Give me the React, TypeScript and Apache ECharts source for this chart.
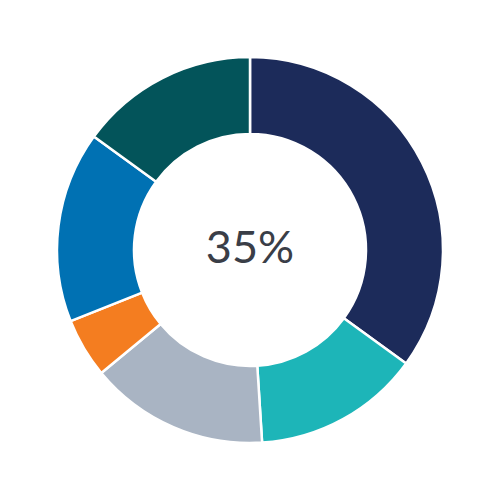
import * as echarts from "echarts";
import { useEffect, useRef } from "react";

const segments = ["Navy", "Teal", "Gray", "Orange", "Blue", "Green"];
const shares = [35, 14, 15, 5, 16, 15];
const colors = ["#1c2b5a", "#1db5b8", "#a9b4c3", "#f47d20", "#0071b3", "#03545a"];
const centerLabel = "35%";

export default function App() {
  const ref = useRef<HTMLDivElement>(null);

  useEffect(() => {
    if (!ref.current) return;
    document.body.style.margin = "0";

    const chart = echarts.init(ref.current, null, { renderer: "svg" });

    chart.setOption({
      animation: false,
      color: colors,
      title: {
        text: centerLabel,
        left: "center",
        top: 218,
        textStyle: {
          fontFamily: "Lato",
          fontWeight: 400,
          fontSize: 45,
          color: "#3a3e47",
        },
      },
      series: [
        {
          type: "pie",
          center: [250, 250],
          radius: [116, 193],
          startAngle: 90,
          clockwise: true,
          label: { show: false },
          labelLine: { show: false },
          emphasis: { disabled: true },
          itemStyle: { borderColor: "#fff", borderWidth: 2.5 },
          data: segments.map((name, i) => ({ name, value: shares[i] })),
        },
      ],
    });

    return () => chart.dispose();
  }, []);

  return <div ref={ref} style={{ width: 500, height: 500 }} />;
}
